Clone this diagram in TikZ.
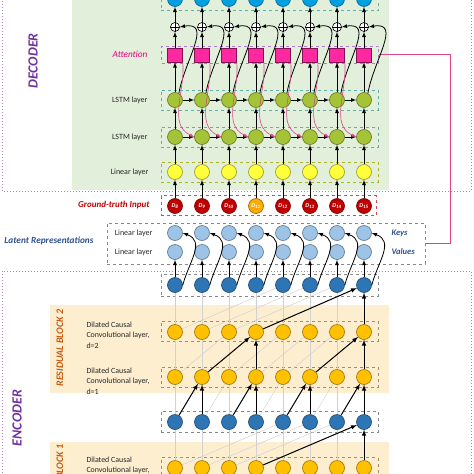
\documentclass[tikz,border=0pt]{standalone}
\usepackage{fontspec}
\setmainfont{Carlito}
\definecolor{panelgreen}{RGB}{226,239,218}
\definecolor{panelorange}{RGB}{253,238,208}
\definecolor{framepurple}{RGB}{175,125,205}
\definecolor{titlepurple}{RGB}{112,48,160}
\definecolor{blockbrown}{RGB}{197,90,17}
\definecolor{slateblue}{RGB}{47,80,140}
\definecolor{attpink}{RGB}{230,0,126}
\definecolor{gtred}{RGB}{192,0,0}
\definecolor{outcyan}{RGB}{0,160,225}
\definecolor{sqpink}{RGB}{255,40,160}
\definecolor{lstmgreen}{RGB}{165,195,55}
\definecolor{linyellow}{RGB}{255,255,60}
\definecolor{dorange}{RGB}{255,170,0}
\definecolor{keyblue}{RGB}{157,195,230}
\definecolor{encblue}{RGB}{46,117,182}
\definecolor{convorange}{RGB}{255,192,0}
\definecolor{boxteal}{RGB}{100,175,165}
\definecolor{boxgray}{RGB}{135,135,135}
\definecolor{boxtan}{RGB}{165,140,100}
\definecolor{linkpink}{RGB}{220,70,140}
\usetikzlibrary{positioning}
\begin{document}
\begin{tikzpicture}[>=latex, x=1pt, y=-1pt,
    neuron/.style={circle, draw=#1!60!black, fill=#1, minimum size=15pt, inner sep=0pt, line width=0.6pt},
    rowbox/.style={draw=#1, dashed, minimum width=217pt, minimum height=20pt, inner sep=0pt},
    lbl/.style={anchor=east, text=black!85, font=\fontsize{8}{9}\selectfont},
    flow/.style={->, line width=0.8pt},
    faint/.style={black!18, line width=0.5pt},
    field/.style={->, line width=1pt}]
    \def\xo{175}
    \def\dx{27}
    \useasboundingbox (0,0) rectangle (474,474);
    \clip (0,0) rectangle (474,474);
    % panels and frames
    \fill[panelgreen] (72,-5) rectangle (389,190);
    \draw[framepurple, dotted, line width=1pt] (2,-5) rectangle (471,191);
    \fill[panelorange] (50,305) rectangle (389,393);
    \fill[panelorange] (50,442) rectangle (389,480);
    \draw[framepurple, dotted, line width=1pt] (2,271) rectangle (471,480);
    \node[rotate=90, text=titlepurple, font=\fontsize{14}{14}\selectfont\bfseries\itshape] (dectitle) at (33,61) {DECODER};
    \node[rotate=90, text=titlepurple, font=\fontsize{14}{14}\selectfont\bfseries\itshape] (enctitle) at (17,418) {ENCODER};
    \node[rotate=90, text=blockbrown, font=\fontsize{10}{10}\selectfont\bfseries\itshape] (blocktwo) at (60,348) {RESIDUAL BLOCK 2};
    \node[rotate=90, text=blockbrown, font=\fontsize{10}{10}\selectfont\bfseries\itshape] (blockone) at (60,483) {RESIDUAL BLOCK 1};
    % row boxes
    \node[rowbox=boxteal] (outbox) at (269.5,0.5) {};
    \node[rowbox=framepurple, minimum height=17pt] (attbox) at (270,54.5) {};
    \node[rowbox=boxteal] (lstmabox) at (269.5,100) {};
    \node[rowbox=boxteal] (lstmbbox) at (269.5,137) {};
    \node[rowbox=linyellow!70!black] (linbox) at (269.5,172) {};
    \node[rowbox=gtred!70, minimum width=215pt] (gtbox) at (268.5,205.5) {};
    \node[draw=boxgray, dashed, minimum width=318pt, minimum height=41pt, inner sep=0pt] (latbox) at (266,243.5) {};
    \node[rowbox=boxgray, minimum height=22pt] (encbox) at (269.5,285) {};
    \node[rowbox=boxtan] (dtwobox) at (269.5,331) {};
    \node[rowbox=boxtan] (donebox) at (269.5,377) {};
    \node[rowbox=boxgray, minimum height=21pt] (inpbox) at (269.5,421.5) {};
    \node[rowbox=boxtan] (blkbox) at (269.5,467.5) {};
    % labels
    \node[lbl, text=attpink, font=\fontsize{9.3}{10}\selectfont\itshape] (attlbl) at (151,54) {Attention};
    \node[lbl] (lstmalbl) at (151,100) {LSTM layer};
    \node[lbl] (lstmblbl) at (151,137) {LSTM layer};
    \node[lbl] (linlbl) at (152,172) {Linear layer};
    \node[lbl, text=gtred, font=\fontsize{9}{10}\selectfont\bfseries\itshape] (gtlbl) at (153,205) {Ground-truth Input};
    \node[lbl] (keylbl) at (156,233) {Linear layer};
    \node[lbl] (vallbl) at (156,252) {Linear layer};
    \node[anchor=west, text=slateblue, font=\fontsize{8.5}{9}\selectfont\bfseries\itshape] (keys) at (388,233) {Keys};
    \node[anchor=west, text=slateblue, font=\fontsize{8.5}{9}\selectfont\bfseries\itshape] (values) at (388,252) {Values};
    \node[text=slateblue, font=\fontsize{9.3}{10}\selectfont\bfseries\itshape] (latlbl) at (49,241) {Latent Representations};
    \node[anchor=north west, align=left, text=black!85, font=\fontsize{7.9}{10.5}\selectfont] (convtwo) at (83,318) {Dilated Causal\\Convolutional layer,\\d=2};
    \node[anchor=north west, align=left, text=black!85, font=\fontsize{7.9}{10.5}\selectfont] (convone) at (83,364) {Dilated Causal\\Convolutional layer,\\d=1};
    \node[anchor=north west, align=left, text=black!85, font=\fontsize{7.9}{10.5}\selectfont] (convzero) at (83,453) {Dilated Causal\\Convolutional layer,};
    % attention feedback
    \coordinate (bend) at (450,54.5);
    \draw[linkpink, line width=0.8pt] (attbox.east) -- (bend) |- (latbox.east);
    % units
    \foreach \i in {0,...,7}{
        \pgfmathtruncatemacro\d{\i+8}
        \ifnum\i=3 \def\c{dorange}\else\def\c{gtred}\fi
        \node[neuron=outcyan] (out\i) at ({\xo+\dx*\i},-1) {};
        \node[circle, draw, fill=white, minimum size=9pt, inner sep=0pt, line width=0.6pt] (plus\i) at ({\xo+\dx*\i},27) {};
        \draw[line width=0.6pt] (plus\i.north) -- (plus\i.south) (plus\i.west) -- (plus\i.east);
        \node[draw=sqpink!50!black, fill=sqpink, minimum width=15pt, minimum height=14pt, inner sep=0pt, line width=0.6pt] (att\i) at ({\xo+\dx*\i},55) {};
        \node[neuron=lstmgreen] (lstma\i) at ({\xo+\dx*\i},100) {};
        \node[neuron=lstmgreen] (lstmb\i) at ({\xo+\dx*\i},137) {};
        \node[neuron=linyellow] (lin\i) at ({\xo+\dx*\i},172) {};
        \node[neuron=\c, text=white, font=\fontsize{6}{6}\selectfont\bfseries\itshape] (gt\i) at ({\xo+\dx*\i},206) {D\textsubscript{\d}};
        \node[neuron=keyblue] (keys\i) at ({\xo+\dx*\i},233) {};
        \node[neuron=keyblue] (vals\i) at ({\xo+\dx*\i},252) {};
        \node[neuron=encblue] (enc\i) at ({\xo+\dx*\i},285) {};
        \node[neuron=convorange] (dtwo\i) at ({\xo+\dx*\i},332) {};
        \node[neuron=convorange] (done\i) at ({\xo+\dx*\i},377) {};
        \node[neuron=encblue] (inp\i) at ({\xo+\dx*\i},422) {};
        \node[neuron=convorange] (blk\i) at ({\xo+\dx*\i},468) {};
    }
    % decoder links
    \foreach \i in {0,...,7}{
        \draw[flow] (gt\i) -- (lin\i);
        \draw[flow] (lin\i) -- (lstmb\i);
        \draw[flow] (lstmb\i) -- (lstma\i);
        \draw[flow] (lstma\i) -- (att\i);
        \draw[flow] (att\i) -- (plus\i);
        \draw[flow] (plus\i) -- (out\i);
        \draw[flow] (lstma\i.60) to[out=80, in=10, looseness=1.3] (plus\i.east);
        \draw[flow] (enc\i) -- (vals\i);
        \draw[flow] (enc\i.east) to[out=75, in=-20, looseness=1.2] (keys\i.east);
    }
    \foreach \i [count=\j from 1] in {0,...,6}{
        \draw[flow] (lstma\i) -- (lstma\j);
        \draw[flow] (lstmb\i) -- (lstmb\j);
        \draw[->, linkpink, line width=0.6pt] (att\i.south east) to[out=-85, in=155] (lstmb\j.west);
    }
    % encoder: all taps
    \foreach \i in {0,...,7}{
        \draw[faint] (enc\i) -- (dtwo\i);
        \draw[faint] (dtwo\i) -- (done\i);
        \draw[faint] (done\i) -- (inp\i);
        \draw[faint] (inp\i) -- (blk\i);
        \draw[faint] (blk\i.south) -- ++(0,10);
    }
    \foreach \i [evaluate=\i as \j using int(\i+4)] in {0,...,3}{
        \draw[faint] (dtwo\i) -- (enc\j);
        \draw[faint] (blk\i) -- (inp\j);
    }
    \foreach \i [evaluate=\i as \j using int(\i+2)] in {0,...,5}
        \draw[faint] (done\i) -- (dtwo\j);
    \foreach \i [count=\j from 1] in {0,...,6}
        \draw[faint] (inp\i) -- (done\j);
    % encoder: receptive field of the last step
    \draw[field] (dtwo3) -- (enc7);
    \draw[field] (dtwo7) -- (enc7);
    \foreach \i/\j in {1/3,3/3,5/7,7/7}
        \draw[field] (done\i) -- (dtwo\j);
    \foreach \i/\j in {0/1,1/1,2/3,3/3,4/5,5/5,6/7,7/7}
        \draw[field] (inp\i) -- (done\j);
    \draw[field] (blk3) -- (inp7);
    \draw[field] (blk7) -- (inp7);
\end{tikzpicture}
\end{document}
